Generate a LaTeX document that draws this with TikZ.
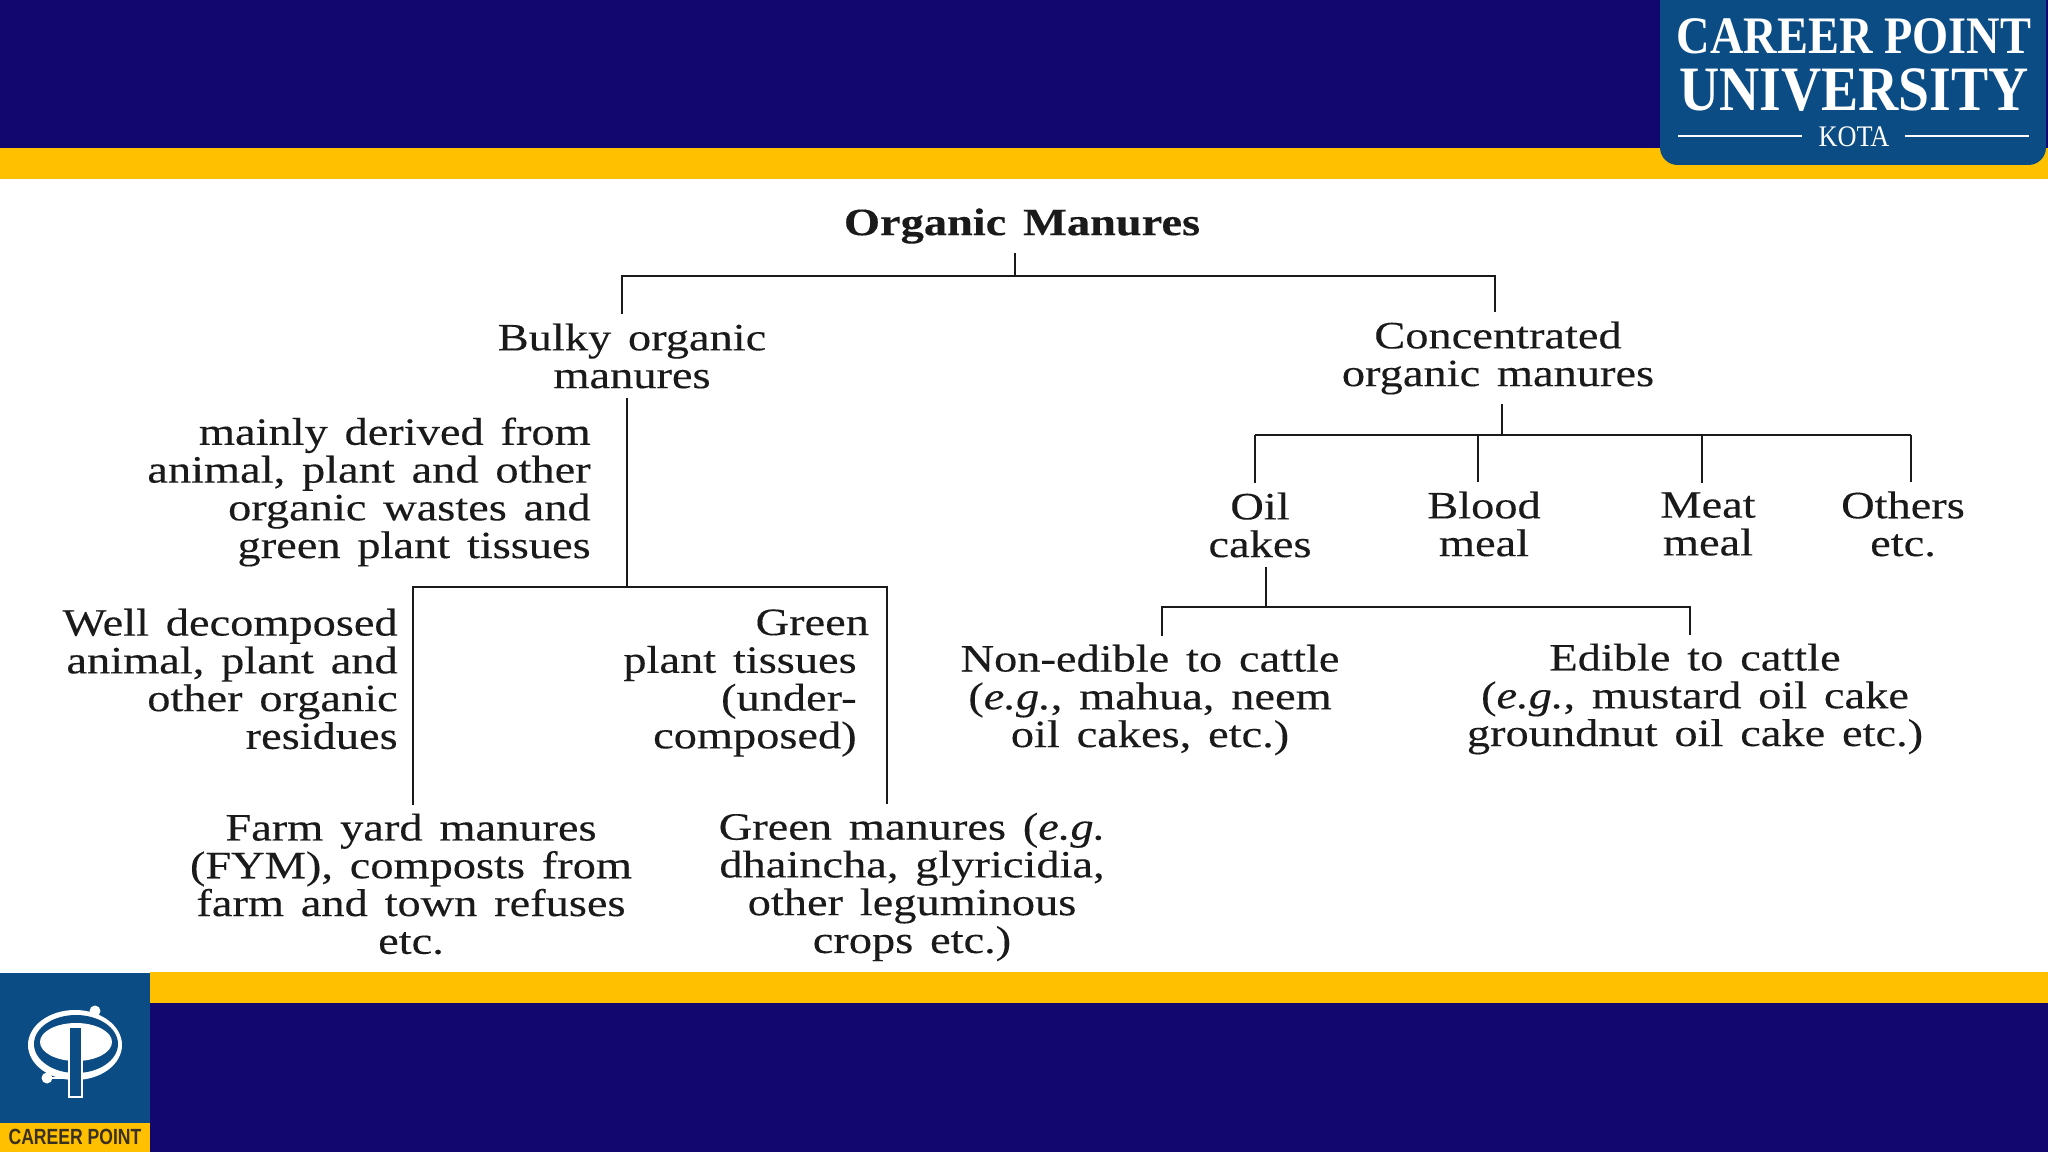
\documentclass[tikz,border=0pt]{standalone}
\usepackage{fontspec}
\setmainfont[FakeStretch=1.2, WordSpace=1.45, FakeBold=0.25]{Liberation Serif}
\newfontfamily\logofont[FakeStretch=0.88]{Liberation Serif}
\newfontfamily\badgefont[FakeStretch=0.8]{Liberation Sans}
\usetikzlibrary{positioning, calc}
\definecolor{navyband}{HTML}{12076F}
\definecolor{goldband}{HTML}{FFC000}
\definecolor{logoblue}{HTML}{0B4C85}
\definecolor{inkgray}{HTML}{1A1A1A}
\definecolor{badgetext}{HTML}{3A3020}

\begin{document}
\begin{tikzpicture}[
  x=0.02cm, y=-0.02cm,
  leaf/.style={
    font=\fontsize{22}{21.5}\selectfont, text=inkgray, align=center, inner sep=5pt
  },
  rightleaf/.style={
    font=\fontsize{22}{21.5}\selectfont, text=inkgray, align=right, inner sep=0pt, anchor=east
  },
  branch/.style={line width=1.6pt, inkgray},
  logotext/.style={text=white, inner sep=0pt},
]
\useasboundingbox (0,0) rectangle (2048,1152);

% Bands
\fill[white] (0,0) rectangle (2048,1152);
\fill[navyband] (0,0) rectangle (2048,148);
\fill[goldband] (0,148) rectangle (2048,179);
\fill[goldband] (150,972) rectangle (2048,1003);
\fill[navyband] (150,1003) rectangle (2048,1152);

% ---- University badge ----
\begin{scope}
  \clip (0,0) rectangle (2048,1152);
  \fill[logoblue, rounded corners=10pt] (1660,-30) rectangle (2046,165);
\end{scope}
\node[logotext, font=\logofont\bfseries\fontsize{30}{30}\selectfont] (cpname) at (1854,36) {CAREER POINT};
\node[logotext, font=\logofont\bfseries\fontsize{36}{36}\selectfont] (uniname) at (1854,90) {UNIVERSITY};
\node[logotext, font=\logofont\fontsize{17}{17}\selectfont] (kota) at (1854,137) {KOTA};
\coordinate (kotaL) at (1678,136);
\coordinate (kotaR) at (2029,136);
\draw[white, line width=1.2pt] (kotaL) -- (1802,136);
\draw[white, line width=1.2pt] (1905,136) -- (kotaR);

% ---- Corner logo ----
\fill[logoblue] (0,973) rectangle (150,1123);
\fill[goldband] (0,1123) rectangle (150,1152);
\fill[white] (75,1045) ellipse [x radius=47, y radius=35];
\fill[logoblue] (76,1044) ellipse [x radius=42, y radius=29];
\fill[white] (76,1042) ellipse [x radius=36, y radius=19];
\fill[white] (95,1011) circle (5.5);
\fill[white] (47,1078) circle (5.5);
\draw[white, line width=1.2pt] (47,1078) -- (69,1078);
\fill[logoblue, draw=white, line width=1.2pt] (69,1027) rectangle (82,1097);
\node[inner sep=0pt, text=badgetext, font=\badgefont\bfseries\fontsize{12.5}{13}\selectfont] (badge) at (75,1137) {CAREER POINT};

% ---- Left side of the tree ----
\node[leaf, font=\bfseries\fontsize{22}{21.5}\selectfont] (title) at (1022,226) {Organic Manures};
\node[leaf] (bulky) at (632,356) {Bulky organic\\manures};
\node[leaf] (conc) at (1498,358) {Concentrated\\organic manures};
\node[rightleaf] (derived) at (591,492) {mainly derived from\\animal, plant and other\\organic wastes and\\green plant tissues};
\node[rightleaf] (decomposed) at (398,679) {Well decomposed\\animal, plant and\\other organic\\residues};
\node[rightleaf] (undecomposed) at (857,683) {Green\kern-7pt\\plant tissues\\(under-\\composed)};
\node[leaf] (fym) at (411,884) {Farm yard manures\\(FYM), composts from\\farm and town refuses\\etc.};
\node[leaf] (greenman) at (912,887) {Green manures (\emph{e.g.}\\dhaincha, glyricidia,\\other leguminous\\crops etc.)};

% ---- Right side of the tree ----
\node[leaf] (oil) at (1260,525) {Oil\\cakes};
\node[leaf] (blood) at (1484,524) {Blood\\meal};
\node[leaf] (meat) at (1708,524) {Meat\\meal};
\node[leaf] (others) at (1903,524) {Others\\etc.};
\node[leaf] (nonedible) at (1150,700) {Non-edible to cattle\\(\emph{e.g.}, mahua, neem\\oil cakes, etc.)};
\node[leaf] (edible) at (1695,699) {Edible to cattle\\(\emph{e.g.}, mustard oil cake\\groundnut oil cake etc.)};

% Bus ends
\coordinate (rootM) at (1015,276);
\coordinate (rootL) at (622,276);
\coordinate (rootR) at (1495,276);
\coordinate (bulkyM) at (627,587);
\coordinate (bulkyL) at (413,587);
\coordinate (bulkyR) at (887,587);
\coordinate (concM) at (1502,435);
\coordinate (concL) at (1255,435);
\coordinate (concB) at (1478,435);
\coordinate (concC) at (1702,435);
\coordinate (concR) at (1911,435);
\coordinate (oilM) at (1266,607);
\coordinate (oilL) at (1162,607);
\coordinate (oilR) at (1690,607);

% Title to the two main groups
\draw[branch] (title.south -| rootM) -- (rootM);
\draw[branch] (rootL |- bulky.north) -- (rootL) -- (rootR) -- (rootR |- conc.north);

% Bulky manures
\draw[branch] (bulky.south -| bulkyM) -- (bulkyM);
\draw[branch] (bulkyL |- fym.north) -- (bulkyL) -- (bulkyR) -- (bulkyR |- greenman.north);

% Concentrated manures
\draw[branch] (conc.south -| concM) -- (concM);
\draw[branch] (concL) -- (concR);
\draw[branch] (concL) -- (concL |- oil.north);
\draw[branch] (concB) -- (concB |- blood.north);
\draw[branch] (concC) -- (concC |- meat.north);
\draw[branch] (concR) -- (concR |- others.north);

% Oil cakes
\draw[branch] (oil.south -| oilM) -- (oilM);
\draw[branch] (oilL |- nonedible.north) -- (oilL) -- (oilR) -- (oilR |- edible.north);

\end{tikzpicture}
\end{document}
